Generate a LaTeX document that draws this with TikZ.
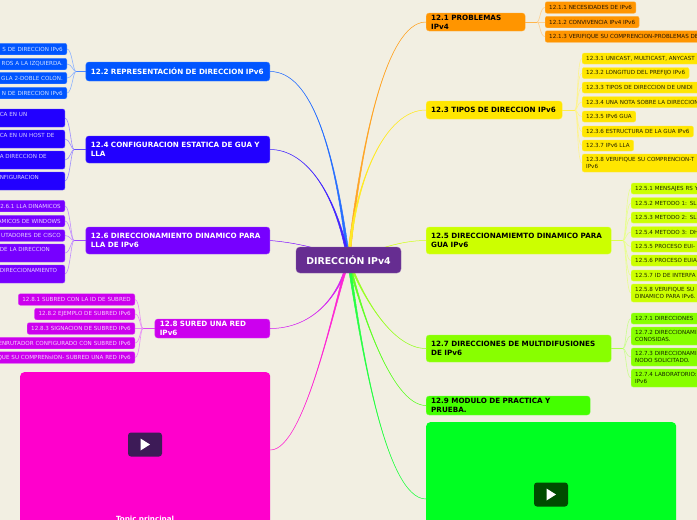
\documentclass[tikz,border=0pt]{standalone}
\usepackage{fontspec}
\setmainfont{DejaVu Sans}
\usetikzlibrary{backgrounds,calc}

\definecolor{cpage}{HTML}{F2EFE2}
\definecolor{croot}{HTML}{662D91}
\definecolor{corange}{HTML}{FF9500}
\definecolor{cyellow}{HTML}{FFE600}
\definecolor{clime}{HTML}{CCFF00}
\definecolor{cgrass}{HTML}{88FF00}
\definecolor{cmodule}{HTML}{44FF00}
\definecolor{cgreen}{HTML}{00FF22}
\definecolor{cblue}{HTML}{0055FF}
\definecolor{cindigo}{HTML}{2200FF}
\definecolor{cviolet}{HTML}{7700FF}
\definecolor{cpurple}{HTML}{CC00EE}
\definecolor{cpink}{HTML}{FF00CC}

\tikzset{
  mainbox/.style={rounded corners=3pt,inner xsep=5pt,inner ysep=0pt,align=left,
    font=\bfseries\fontsize{7.2}{9}\selectfont,draw=#1!75!white,fill=#1,line width=.4pt},
  subbox/.style={rounded corners=2pt,inner xsep=4pt,inner ysep=0pt,align=left,
    font=\fontsize{5.6}{7}\selectfont,draw=#1!75!white,fill=#1,line width=.4pt},
  subleft/.style={subbox=#1,text=white!82!#1},
  subright/.style={subbox=#1,text=black!85!#1},
  stemlink/.style={draw=#1!70!white,line width=1pt},
  sublink/.style={draw=#1!45!white,line width=.6pt},
  playbtn/.style={rounded corners=3pt,inner sep=0pt,minimum width=34pt,minimum height=24pt,fill=#1}
}

% tapered line from a topic to the middle of the root
\newcommand{\branch}[4]{\draw [draw=#1!85!white,fill=#1!85!white,line width=.5pt]
  (#2) .. controls (#3) and (#4) .. ($(root.center)+(1.4,0)$) -- ($(root.center)+(-1.4,0)$)
  .. controls (#4) and (#3) .. (#2);}

\begin{document}
\begin{tikzpicture}[x=1pt,y=-1pt]
\useasboundingbox (0,0) rectangle (697,520);

\node [rounded corners=4pt,fill=croot,draw=croot!75!white,line width=.4pt,text=white,
  font=\bfseries\fontsize{9.4}{11}\selectfont,minimum width=105pt,minimum height=26pt,inner sep=0pt] (root) at (348.5,260) {DIRECCIÓN IPv4};

% right side, topics
\node [mainbox=corange,anchor=west,text width=89pt,minimum height=18pt] (p121) at (426,22) {12.1 PROBLEMAS IPv4};
\node [mainbox=cyellow,anchor=west,text width=126pt,minimum height=18pt] (p123) at (426,110) {12.3 TIPOS DE DIRECCION IPv6};
\node [mainbox=clime,anchor=west,text width=175pt,minimum height=27pt] (p125) at (426,240.5) {12.5 DIRECCIONAMIEMTO DINAMICO PARA GUA IPv6};
\node [mainbox=cgrass,anchor=west,text width=175pt,minimum height=27pt] (p127) at (426,348.5) {12.7 DIRECCIONES DE MULTIDIFUSIONES DE IPv6};
\node [mainbox=cmodule,anchor=west,text width=154pt,minimum height=19pt] (p129) at (426,405.5) {12.9 MODULO DE PRACTICA Y PRUEBA.};
\node [rounded corners=4pt,fill=cgreen,anchor=north west,minimum width=250pt,minimum height=130pt] (vidgreen) at (426,422) {};
\node [playbtn=green!30!black,anchor=center] (playgreen) at (551,494.5) {};
\fill [white] ($(playgreen.center)+(-4.5,-6)$) -- ($(playgreen.center)+(5,0)$) -- ($(playgreen.center)+(-4.5,6)$) -- cycle;

% left side, topics
\node [mainbox=cblue,anchor=east,text=white,text width=174pt,minimum height=19pt] (p122) at (270,71.5) {12.2 REPRESENTACIÓN DE DIRECCION IPv6};
\node [mainbox=cindigo,anchor=east,text=white,text width=174pt,minimum height=27pt] (p124) at (270,149.5) {12.4 CONFIGURACION ESTATICA DE GUA Y LLA};
\node [mainbox=cviolet,anchor=east,text=white,text width=174pt,minimum height=27pt] (p126) at (270,240.5) {12.6 DIRECCIONAMIENTO DINAMICO PARA LLA DE IPv6};
\node [mainbox=cpurple,anchor=east,text=white,text width=105pt,minimum height=19pt] (p128) at (270,328.5) {12.8 SURED UNA RED IPv6};
\node [rounded corners=4pt,fill=cpink,anchor=north west,minimum width=250pt,minimum height=170pt] (vidpink) at (20,372) {};
\node [playbtn=croot!60!black,anchor=center] (playpink) at (145,444.5) {};
\fill [white] ($(playpink.center)+(-4.5,-6)$) -- ($(playpink.center)+(5,0)$) -- ($(playpink.center)+(-4.5,6)$) -- cycle;
\node [text=white,font=\bfseries\fontsize{7.1}{8}\selectfont,inner sep=0pt] (captionpink) at (145,519.5) {Topic principal};

% 12.1
\node [subright=corange,anchor=west,minimum height=11.5pt] (s1211) at (545,7.5) {12.1.1 NECESIDADES DE IPv6};
\node [subright=corange,anchor=west,minimum height=11.5pt] (s1212) at (545,22) {12.1.2 CONVIVENCIA IPv4 IPv6};
\node [subright=corange,anchor=west,text width=190pt,minimum height=11.5pt] (s1213) at (545,36.5) {12.1.3 VERIFIQUE SU COMPRENCION-PROBLEMAS DE};

% 12.3
\node [subright=cyellow,anchor=west,text width=160pt,minimum height=11pt] (s1231) at (582,58.5) {12.3.1 UNICAST, MULTICAST, ANYCAST};
\node [subright=cyellow,anchor=west,minimum height=11pt] (s1232) at (582,73) {12.3.2 LONGITUD DEL PREFIJO IPv6};
\node [subright=cyellow,anchor=west,text width=160pt,minimum height=11pt] (s1233) at (582,87.5) {12.3.3 TIPOS DE DIRECCION DE UNIDI};
\node [subright=cyellow,anchor=west,text width=160pt,minimum height=11pt] (s1234) at (582,102) {12.3.4 UNA NOTA SOBRE LA DIRECCION};
\node [subright=cyellow,anchor=west,minimum height=11pt] (s1235) at (582,116.5) {12.3.5 IPv6 GUA};
\node [subright=cyellow,anchor=west,minimum height=11pt] (s1236) at (582,131.5) {12.3.6 ESTRUCTURA DE LA GUA IPv6};
\node [subright=cyellow,anchor=west,minimum height=11pt] (s1237) at (582,145.5) {12.3.7 IPv6 LLA};
\node [subright=cyellow,anchor=west,text width=160pt,minimum height=18pt] (s1238) at (582,163) {12.3.8 VERIFIQUE SU COMPRENCION-T\\IPv6};

% 12.5
\node [subright=clime,anchor=west,text width=120pt,minimum height=11pt] (s1251) at (631,188.5) {12.5.1 MENSAJES RS Y};
\node [subright=clime,anchor=west,text width=120pt,minimum height=11pt] (s1252) at (631,203) {12.5.2 METODO 1: SL};
\node [subright=clime,anchor=west,text width=120pt,minimum height=11pt] (s1253) at (631,217.5) {12.5.3 METODO 2: SL};
\node [subright=clime,anchor=west,text width=120pt,minimum height=11pt] (s1254) at (631,232) {12.5.4 METODO 3: DH};
\node [subright=clime,anchor=west,text width=120pt,minimum height=11pt] (s1255) at (631,246.5) {12.5.5 PROCESO EUI-};
\node [subright=clime,anchor=west,text width=120pt,minimum height=11pt] (s1256) at (631,260.5) {12.5.6 PROCESO EUIA};
\node [subright=clime,anchor=west,text width=120pt,minimum height=11pt] (s1257) at (631,275.5) {12.5.7 ID DE INTERFA};
\node [subright=clime,anchor=west,text width=120pt,minimum height=18pt] (s1258) at (631,293) {12.5.8 VERIFIQUE SU\\DINAMICO PARA IPv6.};

% 12.7
\node [subright=cgrass,anchor=west,text width=120pt,minimum height=11pt] (s1271) at (631,318.5) {12.7.1 DIRECCIONES};
\node [subright=cgrass,anchor=west,text width=120pt,minimum height=18pt] (s1272) at (631,336) {12.7.2 DIRECCIONAMI\\CONOSIDAS.};
\node [subright=cgrass,anchor=west,text width=120pt,minimum height=18pt] (s1273) at (631,357) {12.7.3 DIRECCIONAMI\\NODO SOLICITADO.};
\node [subright=cgrass,anchor=west,text width=120pt,minimum height=18pt] (s1274) at (631,378) {12.7.4 LABORATORIO:\\IPv6};

% 12.2
\node [subleft=cblue,anchor=east,text width=110pt,align=right,minimum height=11.5pt] (s1221) at (67,49) {S DE DIRECCION IPv6};
\node [subleft=cblue,anchor=east,text width=110pt,align=right,minimum height=11.5pt] (s1222) at (67,64) {ROS A LA IZQUIERDA.};
\node [subleft=cblue,anchor=east,text width=110pt,align=right,minimum height=11.5pt] (s1223) at (67,78) {GLA 2-DOBLE COLON.};
\node [subleft=cblue,anchor=east,text width=110pt,align=right,minimum height=11.5pt] (s1224) at (67,93) {N DE DIRECCION IPv6};

% 12.4
\node [subleft=cindigo,anchor=east,text width=61pt,minimum height=18pt] (s1241) at (65,118) {CA EN UN\\~};
\node [subleft=cindigo,anchor=east,text width=61pt,minimum height=18pt] (s1242) at (65,139) {CA EN UN HOST DE\\~};
\node [subleft=cindigo,anchor=east,text width=61pt,minimum height=18pt] (s1243) at (65,160) {A DIRECCION DE\\~};
\node [subleft=cindigo,anchor=east,text width=61pt,minimum height=18pt] (s1244) at (65,181) {NFIGURACION\\~};

% 12.6
\node [subleft=cviolet,anchor=east,text width=110pt,align=right,minimum height=11.5pt] (s1261) at (65,206) {2.6.1 LLA DINAMICOS};
\node [subleft=cviolet,anchor=east,text width=110pt,align=right,minimum height=11.5pt] (s1262) at (65,221) {AMICOS DE WINDOWS};
\node [subleft=cviolet,anchor=east,text width=110pt,align=right,minimum height=11.5pt] (s1263) at (65,235.5) {UTADORES DE CISCO};
\node [subleft=cviolet,anchor=east,text width=61pt,minimum height=18pt] (s1264) at (65,253) {DE LA DIRECCION\\~};
\node [subleft=cviolet,anchor=east,text width=61pt,minimum height=18pt] (s1265) at (65,274) {DIRECCIONAMIENTO\\~};

% 12.8
\node [subleft=cpurple,anchor=east,minimum height=11.5pt] (s1281) at (135,299.5) {12.8.1 SUBRED CON LA ID DE SUBRED};
\node [subleft=cpurple,anchor=east,minimum height=11.5pt] (s1282) at (135,314) {12.8.2 EJEMPLO DE SUBRED IPv6};
\node [subleft=cpurple,anchor=east,minimum height=11.5pt] (s1283) at (135,328.5) {12.8.3 SIGNACION DE SUBRED IPv6};
\node [subleft=cpurple,anchor=east,text width=170pt,align=right,minimum height=11.5pt] (s1284) at (135,343) {ENRUTADOR CONFIGURADO CON SUBRED IPv6};
\node [subleft=cpurple,anchor=east,text width=170pt,align=right,minimum height=11.5pt] (s1285) at (135,357.5) {QUE SU COMPRENsION- SUBRED UNA RED IPv6};

\coordinate (fork121) at (537,22);
\coordinate (fork123) at (575,110);
\coordinate (fork125) at (623,240.5);
\coordinate (fork127) at (623,348.5);
\coordinate (fork122) at (76,71.5);
\coordinate (fork124) at (74,149.5);
\coordinate (fork126) at (74,240.5);
\coordinate (fork128) at (143,328.5);

\begin{pgfonlayer}{background}
\fill [cpage] (0,0) rectangle (697,520);

\branch{corange}{p121.west}{385,22}{360,150}
\branch{cyellow}{p123.west}{385,110}{355,180}
\branch{clime}{p125.west}{400,240.5}{375,250}
\branch{cgrass}{p127.west}{390,348.5}{360,290}
\branch{cmodule}{p129.west}{390,405.5}{358,300}
\branch{cgreen}{vidgreen.west |- 0,499}{385,499}{360,340}
\branch{cblue}{p122.east}{312,71.5}{335,150}
\branch{cindigo}{p124.east}{305,149.5}{335,190}
\branch{cviolet}{p126.east}{300,243}{325,250}
\branch{cpurple}{p128.east}{310,328.5}{338,300}
\branch{cpink}{vidpink.east |- 0,450}{305,450}{335,300}

\draw [stemlink=corange] (p121.east) -- (fork121);
\draw [sublink=corange] (fork121) .. controls +(3,0) and +(-5,0) .. (s1211.west);
\draw [sublink=corange] (fork121) -- (s1212.west);
\draw [sublink=corange] (fork121) .. controls +(3,0) and +(-5,0) .. (s1213.west);

\draw [stemlink=cyellow] (p123.east) -- (fork123);
\draw [sublink=cyellow] (fork123) .. controls +(3,0) and +(-5,0) .. (s1231.west);
\draw [sublink=cyellow] (fork123) .. controls +(3,0) and +(-5,0) .. (s1232.west);
\draw [sublink=cyellow] (fork123) .. controls +(3,0) and +(-5,0) .. (s1233.west);
\draw [sublink=cyellow] (fork123) .. controls +(3,0) and +(-5,0) .. (s1234.west);
\draw [sublink=cyellow] (fork123) .. controls +(3,0) and +(-5,0) .. (s1235.west);
\draw [sublink=cyellow] (fork123) .. controls +(3,0) and +(-5,0) .. (s1236.west);
\draw [sublink=cyellow] (fork123) .. controls +(3,0) and +(-5,0) .. (s1237.west);
\draw [sublink=cyellow] (fork123) .. controls +(3,0) and +(-5,0) .. (s1238.west);

\draw [stemlink=clime] (p125.east) -- (fork125);
\draw [sublink=clime] (fork125) .. controls +(3,0) and +(-5,0) .. (s1251.west);
\draw [sublink=clime] (fork125) .. controls +(3,0) and +(-5,0) .. (s1252.west);
\draw [sublink=clime] (fork125) .. controls +(3,0) and +(-5,0) .. (s1253.west);
\draw [sublink=clime] (fork125) .. controls +(3,0) and +(-5,0) .. (s1254.west);
\draw [sublink=clime] (fork125) .. controls +(3,0) and +(-5,0) .. (s1255.west);
\draw [sublink=clime] (fork125) .. controls +(3,0) and +(-5,0) .. (s1256.west);
\draw [sublink=clime] (fork125) .. controls +(3,0) and +(-5,0) .. (s1257.west);
\draw [sublink=clime] (fork125) .. controls +(3,0) and +(-5,0) .. (s1258.west);

\draw [stemlink=cgrass] (p127.east) -- (fork127);
\draw [sublink=cgrass] (fork127) .. controls +(3,0) and +(-5,0) .. (s1271.west);
\draw [sublink=cgrass] (fork127) .. controls +(3,0) and +(-5,0) .. (s1272.west);
\draw [sublink=cgrass] (fork127) .. controls +(3,0) and +(-5,0) .. (s1273.west);
\draw [sublink=cgrass] (fork127) .. controls +(3,0) and +(-5,0) .. (s1274.west);

\draw [stemlink=cblue] (p122.west) -- (fork122);
\draw [sublink=cblue] (fork122) .. controls +(-3,0) and +(5,0) .. (s1221.east);
\draw [sublink=cblue] (fork122) .. controls +(-3,0) and +(5,0) .. (s1222.east);
\draw [sublink=cblue] (fork122) .. controls +(-3,0) and +(5,0) .. (s1223.east);
\draw [sublink=cblue] (fork122) .. controls +(-3,0) and +(5,0) .. (s1224.east);

\draw [stemlink=cindigo] (p124.west) -- (fork124);
\draw [sublink=cindigo] (fork124) .. controls +(-3,0) and +(5,0) .. (s1241.east);
\draw [sublink=cindigo] (fork124) .. controls +(-3,0) and +(5,0) .. (s1242.east);
\draw [sublink=cindigo] (fork124) .. controls +(-3,0) and +(5,0) .. (s1243.east);
\draw [sublink=cindigo] (fork124) .. controls +(-3,0) and +(5,0) .. (s1244.east);

\draw [stemlink=cviolet] (p126.west) -- (fork126);
\draw [sublink=cviolet] (fork126) .. controls +(-3,0) and +(5,0) .. (s1261.east);
\draw [sublink=cviolet] (fork126) .. controls +(-3,0) and +(5,0) .. (s1262.east);
\draw [sublink=cviolet] (fork126) .. controls +(-3,0) and +(5,0) .. (s1263.east);
\draw [sublink=cviolet] (fork126) .. controls +(-3,0) and +(5,0) .. (s1264.east);
\draw [sublink=cviolet] (fork126) .. controls +(-3,0) and +(5,0) .. (s1265.east);

\draw [stemlink=cpurple] (p128.west) -- (fork128);
\draw [sublink=cpurple] (fork128) .. controls +(-3,0) and +(5,0) .. (s1281.east);
\draw [sublink=cpurple] (fork128) .. controls +(-3,0) and +(5,0) .. (s1282.east);
\draw [sublink=cpurple] (fork128) .. controls +(-3,0) and +(5,0) .. (s1283.east);
\draw [sublink=cpurple] (fork128) .. controls +(-3,0) and +(5,0) .. (s1284.east);
\draw [sublink=cpurple] (fork128) .. controls +(-3,0) and +(5,0) .. (s1285.east);
\end{pgfonlayer}

\end{tikzpicture}
\end{document}
